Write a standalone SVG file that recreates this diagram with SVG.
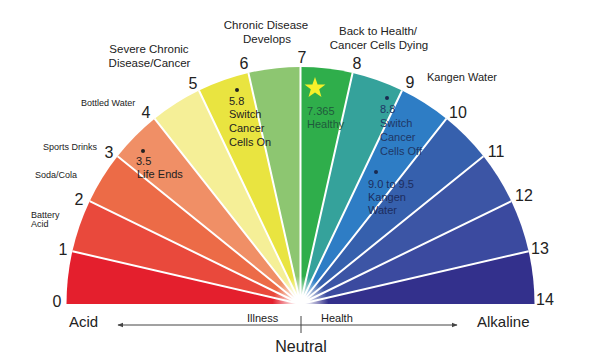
<svg xmlns="http://www.w3.org/2000/svg" width="592" height="362" viewBox="0 0 592 362">
<style>
text{font-family:"Liberation Sans",Arial,sans-serif;fill:#222}
.num{font-size:16px;text-anchor:middle}
.hdr{font-size:11.5px;text-anchor:middle}
.sm{font-size:9px}
.in{font-size:11px}
.sep{stroke:#fff;stroke-width:2;fill:none}
.axis{stroke:#444;stroke-width:1;fill:none}
</style>
<defs>
<radialGradient id="glow" cx="300.5" cy="304" r="28" gradientUnits="userSpaceOnUse">
<stop offset="0" stop-color="#fff" stop-opacity="1"/>
<stop offset="0.35" stop-color="#fff" stop-opacity="0.8"/>
<stop offset="1" stop-color="#fff" stop-opacity="0"/>
</radialGradient>
<marker id="ah" viewBox="0 0 10 10" refX="9" refY="5" markerWidth="6" markerHeight="6" orient="auto-start-reverse">
<path d="M0,1 L10,5 L0,9 Z" fill="#444"/>
</marker>
</defs>
<g id="fan">
<path id="seg0" fill="#e41f2d" d="M300.5,304 L66.5,304 A234,237 0 0 1 72.37,251.26 Z"/>
<path id="seg1" fill="#e9493c" d="M300.5,304 L72.37,251.26 A234,237 0 0 1 89.67,201.17 Z"/>
<path id="seg2" fill="#ec6b47" d="M300.5,304 L89.67,201.17 A234,237 0 0 1 117.55,156.23 Z"/>
<path id="seg3" fill="#f08f66" d="M300.5,304 L117.55,156.23 A234,237 0 0 1 154.6,118.71 Z"/>
<path id="seg4" fill="#f5ef97" d="M300.5,304 L154.6,118.71 A234,237 0 0 1 198.97,90.47 Z"/>
<path id="seg5" fill="#e9e440" d="M300.5,304 L198.97,90.47 A234,237 0 0 1 248.43,72.94 Z"/>
<path id="seg6" fill="#8dc671" d="M300.5,304 L248.43,72.94 A234,237 0 0 1 300.5,67 Z"/>
<path id="seg7" fill="#2fae4b" d="M300.5,304 L300.5,67 A234,237 0 0 1 352.57,72.94 Z"/>
<path id="seg8" fill="#35a29b" d="M300.5,304 L352.57,72.94 A234,237 0 0 1 402.03,90.47 Z"/>
<path id="seg9" fill="#2e7dc5" d="M300.5,304 L402.03,90.47 A234,237 0 0 1 446.4,118.71 Z"/>
<path id="seg10" fill="#3660ad" d="M300.5,304 L446.4,118.71 A234,237 0 0 1 483.45,156.23 Z"/>
<path id="seg11" fill="#3c55a5" d="M300.5,304 L483.45,156.23 A234,237 0 0 1 511.33,201.17 Z"/>
<path id="seg12" fill="#3b4a9f" d="M300.5,304 L511.33,201.17 A234,237 0 0 1 528.63,251.26 Z"/>
<path id="seg13" fill="#33308c" d="M300.5,304 L528.63,251.26 A234,237 0 0 1 534.5,304 Z"/>
</g>
<g id="separators">
<path class="sep" d="M300.5,304 L72.37,251.26 M300.5,304 L89.67,201.17 M300.5,304 L117.55,156.23 M300.5,304 L154.6,118.71 M300.5,304 L198.97,90.47 M300.5,304 L248.43,72.94 M300.5,304 L300.5,67 M300.5,304 L352.57,72.94 M300.5,304 L402.03,90.47 M300.5,304 L446.4,118.71 M300.5,304 L483.45,156.23 M300.5,304 L511.33,201.17 M300.5,304 L528.63,251.26"/>
<path d="M272.5,304 A28,28 0 0 1 328.5,304 Z" fill="url(#glow)"/>
</g>
<g id="numbers">
<text class="num" x="57" y="307">0</text>
<text class="num" x="63" y="255">1</text>
<text class="num" x="79" y="205">2</text>
<text class="num" x="109" y="158">3</text>
<text class="num" x="146" y="118">4</text>
<text class="num" x="193" y="89">5</text>
<text class="num" x="244" y="69">6</text>
<text class="num" x="302" y="63">7</text>
<text class="num" x="357" y="69">8</text>
<text class="num" x="410" y="88">9</text>
<text class="num" x="458" y="118">10</text>
<text class="num" x="496" y="157">11</text>
<text class="num" x="524" y="201">12</text>
<text class="num" x="540" y="254">13</text>
<text class="num" x="545" y="305">14</text>
</g>
<g id="headers">
<text class="hdr" x="266" y="29">Chronic Disease</text>
<text class="hdr" x="267" y="43">Develops</text>
<text class="hdr" x="149" y="53">Severe Chronic</text>
<text class="hdr" x="149.5" y="67">Disease/Cancer</text>
<text class="hdr" x="378" y="35">Back to Health/</text>
<text class="hdr" x="379" y="49">Cancer Cells Dying</text>
<text class="hdr" x="462" y="81" style="font-size:11px">Kangen Water</text>
</g>
<g id="side-labels">
<text class="sm" x="81" y="106">Bottled Water</text>
<text class="sm" x="43" y="150">Sports Drinks</text>
<text class="sm" x="35" y="178">Soda/Cola</text>
<text class="sm" x="31" y="218">Battery</text>
<text class="sm" x="31" y="227">Acid</text>
</g>
<g id="marker-3-5">
<circle cx="143" cy="151" r="2" fill="#222"/>
<text class="in" x="136" y="165">3.5</text>
<text class="in" x="137" y="178">Life Ends</text>
</g>
<g id="marker-5-8">
<circle cx="237" cy="90" r="2" fill="#222"/>
<text class="in" x="229" y="105">5.8</text>
<text class="in" x="229" y="118">Switch</text>
<text class="in" x="229" y="132">Cancer</text>
<text class="in" x="229" y="146">Cells On</text>
</g>
<g id="marker-7-365">
<polygon fill="#f5f02a" points="315,77 317.59,84.44 325.46,84.6 319.18,89.36 321.47,96.9 315,92.4 308.53,96.9 310.82,89.36 304.54,84.6 312.41,84.44"/>
<text class="in" x="307" y="115" style="fill:#1f5a3c">7.365</text>
<text class="in" x="307" y="128" style="fill:#1f5a3c">Healthy</text>
</g>
<g id="marker-8-8">
<circle cx="387" cy="98" r="2" fill="#1a2a50"/>
<text class="in" x="380" y="113" style="fill:#1f3766">8.8</text>
<text class="in" x="380" y="127" style="fill:#1f3766">Switch</text>
<text class="in" x="380" y="141" style="fill:#1f3766">Cancer</text>
<text class="in" x="380" y="155" style="fill:#1f3766">Cells Off</text>
</g>
<g id="marker-9-0">
<circle cx="376" cy="172" r="2" fill="#1a2a50"/>
<text class="in" x="368" y="188" style="fill:#1d2d5e">9.0 to 9.5</text>
<text class="in" x="368" y="201" style="fill:#1d2d5e">Kangen</text>
<text class="in" x="368" y="214" style="fill:#1d2d5e">Water</text>
</g>
<g id="connectors">
<line class="axis" x1="301" y1="325" x2="118" y2="325" marker-end="url(#ah)"/>
<line class="axis" x1="301" y1="325" x2="457" y2="325" marker-end="url(#ah)"/>
<line class="axis" x1="301" y1="316" x2="301" y2="333"/>
</g>
<g id="axis-labels">
<text x="69" y="327" style="font-size:15px">Acid</text>
<text x="477" y="327" style="font-size:15px">Alkaline</text>
<text x="301" y="352" style="font-size:16px;text-anchor:middle">Neutral</text>
<text x="247" y="322" style="font-size:11px">Illness</text>
<text x="321" y="322" style="font-size:11px">Health</text>
</g>
</svg>
